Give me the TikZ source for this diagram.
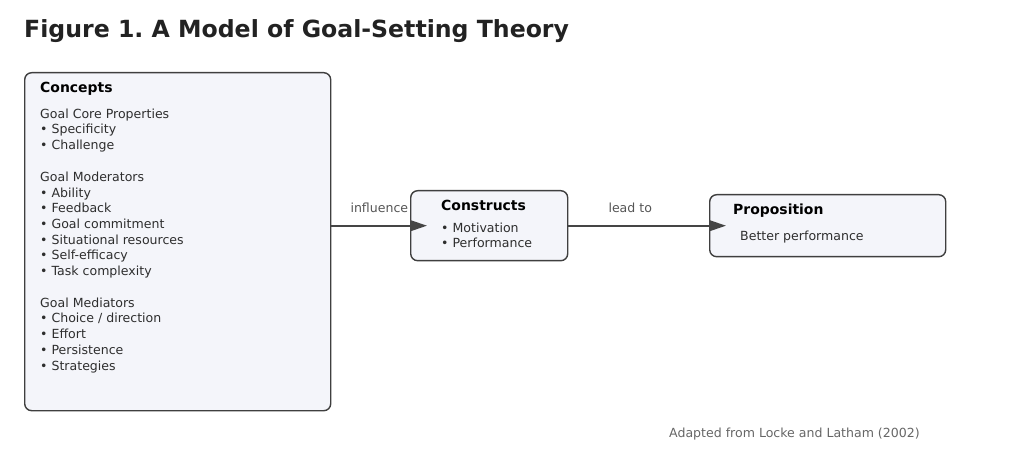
\documentclass[tikz,border=0pt]{standalone}
\usepackage{fontspec}
\setmainfont{DejaVu Sans}
\frenchspacing
\usetikzlibrary{arrows.meta,positioning,calc}
\definecolor{ink}{HTML}{222222}
\definecolor{bodyink}{HTML}{2E2E2E}
\definecolor{labelink}{HTML}{555555}
\definecolor{noteink}{HTML}{666666}
\definecolor{boxline}{HTML}{3F3F3F}
\definecolor{boxfill}{HTML}{F4F5FA}
\definecolor{arrowink}{HTML}{454545}
\tikzset{
  modelbox/.style={
    rectangle, rounded corners=7bp, draw=boxline, fill=boxfill,
    line width=1.4bp, anchor=north west, inner sep=0pt
  },
  headtext/.style={
    font=\fontsize{14}{17}\selectfont\bfseries, text=black,
    inner sep=0pt, anchor=base west
  },
  itemtext/.style={
    font=\fontsize{12.6}{15.8}\selectfont, text=bodyink,
    inner sep=0pt, align=left, anchor=north west
  },
  linklabel/.style={
    font=\fontsize{12.6}{15}\selectfont, text=labelink, inner sep=0pt
  },
  linkarrow/.style={
    -{Triangle[length=17bp,width=11bp]}, line width=2bp,
    color=arrowink, shorten >=-17bp
  },
}

\begin{document}
\begin{tikzpicture}[x=1bp, y=-1bp]
  \useasboundingbox (0,0) rectangle (1024,473);

  % title
  \node[font=\fontsize{23.7}{28}\selectfont\bfseries, text=ink, inner sep=0pt,
        anchor=base west] (title) at (24,38) {Figure 1. A Model of Goal-Setting Theory};

  % boxes
  \node[modelbox, minimum width=306bp, minimum height=338bp] (concepts) at (24,72) {};
  \node[modelbox, minimum width=157bp, minimum height=70bp] (constructs) at (410,190) {};
  \node[modelbox, minimum width=236bp, minimum height=62bp] (proposition) at (709,194) {};

  % box texts
  \node[headtext] (conceptshead) at ([xshift=16bp, yshift=-20.5bp]concepts.north west) {Concepts};
  \node[itemtext] (conceptsitems) at ([xshift=16bp, yshift=-36.5bp]concepts.north west) {%
    Goal Core Properties\\
    • Specificity\\
    • Challenge\\[15.8bp]
    Goal Moderators\\
    • Ability\\
    • Feedback\\
    • Goal commitment\\
    • Situational resources\\
    • Self-efficacy\\
    • Task complexity\\[15.8bp]
    Goal Mediators\\
    • Choice / direction\\
    • Effort\\
    • Persistence\\
    • Strategies};

  \node[headtext] (constructshead) at ([xshift=31bp, yshift=-20.5bp]constructs.north west) {Constructs};
  \node[itemtext] (constructsitems) at ([xshift=31bp, yshift=-32.5bp]constructs.north west) {%
    • Motivation\\
    • Performance};

  \node[headtext] (propositionhead) at ([xshift=24bp, yshift=-20.5bp]proposition.north west) {Proposition};
  \node[itemtext] (propositionitems) at ([xshift=31bp, yshift=-36.5bp]proposition.north west) {Better performance};

  % links
  \draw[linkarrow] (concepts.east |- constructs.west) -- (constructs.west)
    node[linklabel, pos=0.61, above=12bp] (influence) {influence};
  \draw[linkarrow] (constructs.east) -- (proposition.west |- constructs.east)
    node[linklabel, pos=0.44, above=12bp] (leadto) {lead to};

  % source note
  \node[font=\fontsize{12.6}{15}\selectfont, text=noteink, inner sep=0pt,
        anchor=base west] (source) at (669,437) {Adapted from Locke and Latham (2002)};
\end{tikzpicture}
\end{document}
